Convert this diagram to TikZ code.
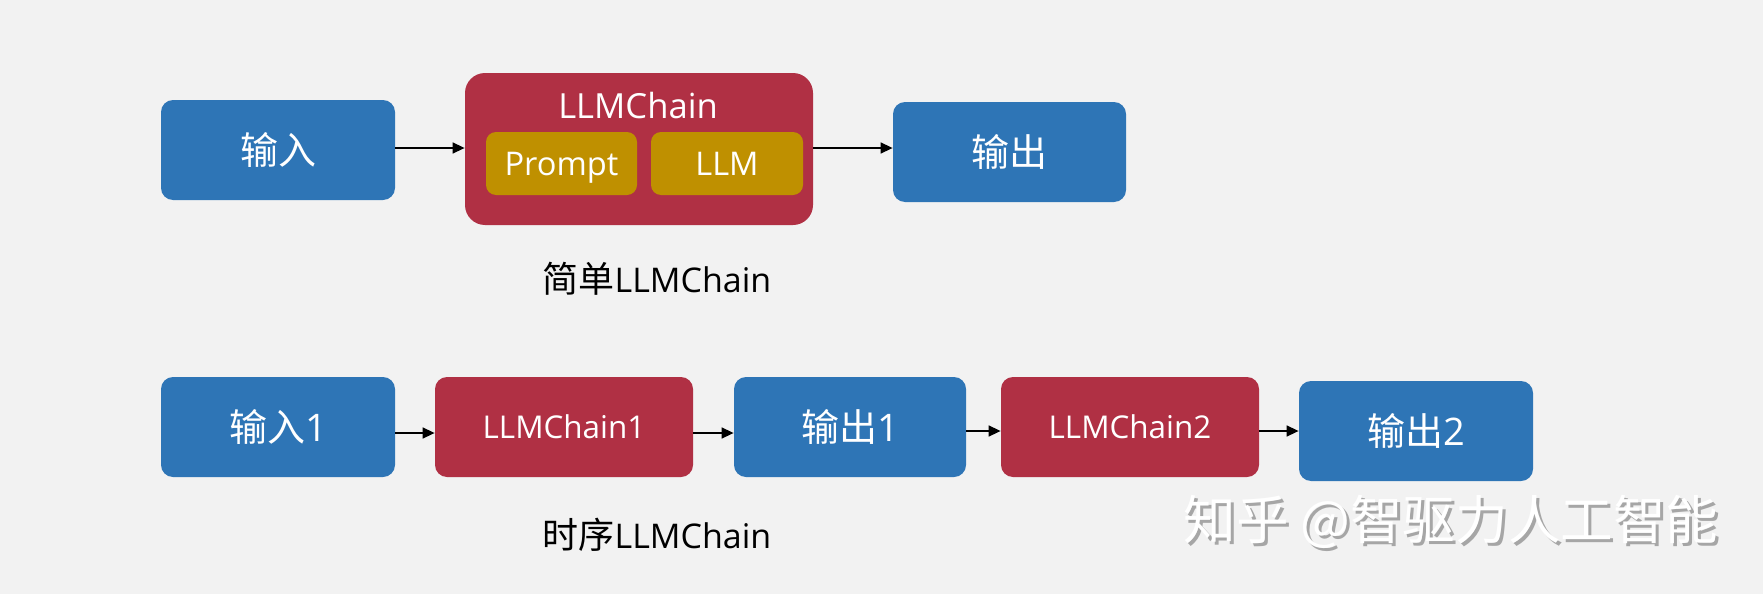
\documentclass[tikz,border=0pt]{standalone}
\usepackage{fontspec}
\setmainfont{Open Sans}
\newfontfamily\cjk{Noto Sans CJK SC}
\usetikzlibrary{arrows.meta}
\definecolor{bgc}{HTML}{F2F2F2}
\definecolor{bluec}{HTML}{2E75B6}
\definecolor{redc}{HTML}{B03044}
\definecolor{goldc}{HTML}{BF9000}
\definecolor{shadowc}{HTML}{A6A6A6}
\tikzset{
  bluebox/.style={fill=bluec, text=white, rounded corners=6pt, inner sep=0pt,
    minimum width=117pt, minimum height=50pt, font=\fontsize{19pt}{22pt}\selectfont},
  redbox/.style={fill=redc, text=white, rounded corners=6pt, inner sep=0pt,
    minimum width=129pt, minimum height=50pt, text height=11.2pt, text depth=0pt,
    font=\fontsize{15.7pt}{19pt}\selectfont},
  outerbox/.style={fill=redc, rounded corners=10pt, inner sep=0pt,
    minimum width=174pt, minimum height=76pt},
  goldbox/.style={fill=goldc, text=white, rounded corners=5pt, inner sep=0pt,
    minimum width=75.5pt, minimum height=31.5pt, text height=11.6pt, text depth=0pt,
    font=\fontsize{16.3pt}{19pt}\selectfont},
  titletext/.style={text=white, inner sep=0pt, text height=12.3pt, text depth=0pt,
    font=\fontsize{17.3pt}{20pt}\selectfont},
  captext/.style={text=black, inner sep=0pt, font=\fontsize{17pt}{20pt}\selectfont},
  arr/.style={line width=0.75pt, -{Triangle[length=6pt,width=5.5pt]}},
  wmark/.style={inner sep=0pt, font=\cjk\fontsize{26.3pt}{30pt}\selectfont}
}
\begin{document}
\begin{tikzpicture}[x=0.5pt,y=-0.5pt]
\fill[bgc] (0,0) rectangle (1763,594);
\useasboundingbox (0,0) rectangle (1763,594);
% top row
\node[bluebox] (in) at (278,150) {\cjk 输入};
\node[outerbox] (chain) at (639,149) {};
\node[titletext] (title) at (638,106) {LLMChain};
\node[goldbox] (prompt) at (561.5,163.5) {Prompt};
\node[goldbox, minimum width=76pt] (llm) at (727,163.5) {LLM};
\node[bluebox, minimum width=116.5pt] (out) at (1009.5,152) {\cjk 输出};
\node[captext] (cap1) at (657,279) {{\cjk\fontsize{18pt}{20pt}\selectfont 简单}LLMChain};
\draw[arr] ([yshift=1pt]in.east) -- ([yshift=1pt]in.east -| chain.west);
\draw[arr] ([yshift=0.5pt]chain.east) -- ([yshift=0.5pt]chain.east -| out.west);
% bottom row
\node[bluebox] (in1) at (278,427) {{\cjk 输入}1};
\node[redbox] (c1) at (564,427) {LLMChain1};
\node[bluebox, minimum width=116pt] (out1) at (850,427) {{\cjk 输出}1};
\node[redbox] (c2) at (1130,427) {LLMChain2};
\node[bluebox] (out2) at (1416,431) {{\cjk 输出}2};
\node[captext] (cap2) at (657,535) {{\cjk\fontsize{18pt}{20pt}\selectfont 时序}LLMChain};
\draw[arr] ([yshift=-3pt]in1.east) -- ([yshift=-3pt]in1.east -| c1.west);
\draw[arr] ([yshift=-3pt]c1.east) -- ([yshift=-3pt]c1.east -| out1.west);
\draw[arr] ([yshift=-2pt]out1.east) -- ([yshift=-2pt]out1.east -| c2.west);
\draw[arr] ([yshift=-2pt]c2.east) -- ([yshift=-2pt]c2.east -| out2.west);
% watermark
\node[wmark, text=shadowc] (wms) at (1454,525) {知乎 @智驱力人工智能};
\node[wmark, text=white] (wm) at (1451,522) {知乎 @智驱力人工智能};
\end{tikzpicture}
\end{document}
